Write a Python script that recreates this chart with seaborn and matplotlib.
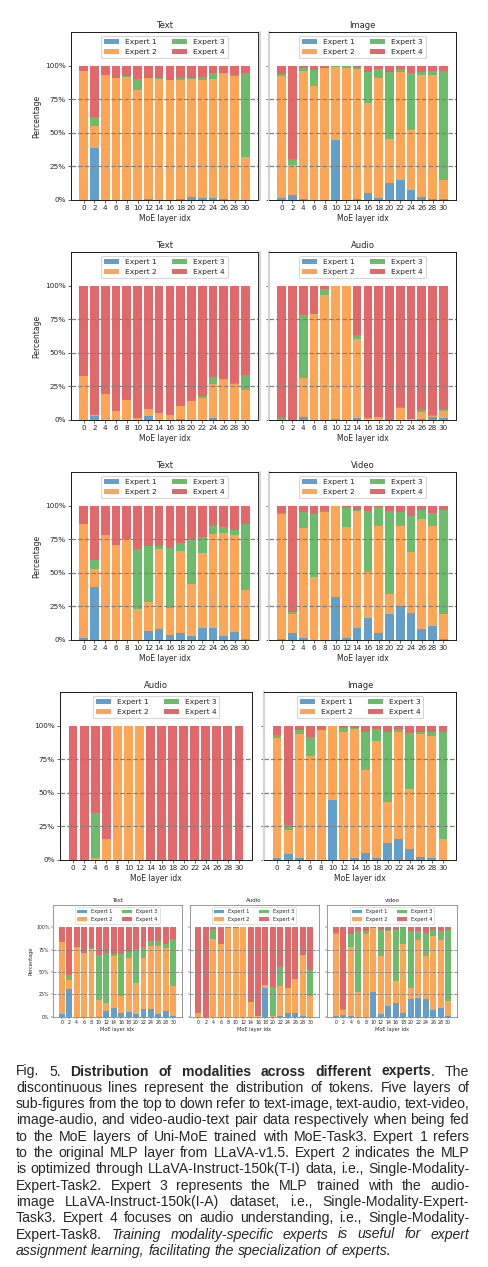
import matplotlib
matplotlib.use("Agg")
import matplotlib.pyplot as plt
import matplotlib.colors as mcolors
from matplotlib.lines import Line2D
import seaborn as sns
import numpy as np
from matplotlib.patches import Patch

# ---------------- data (percent of tokens per expert) ----------------
layers = [str(i) for i in range(0, 31, 2)]
expert_labels = ["Expert 1", "Expert 2", "Expert 3", "Expert 4"]

# Row 1 : text-image pair, Text tokens
r1t_e1 = [0, 38.6, 0, 0, 0, 0, 0.7, 0, 0, 0.8, 2.0, 1.5, 1.5, 0.5, 0, 0]
r1t_e2 = [96.0, 16.6, 93.3, 91.0, 91.8, 81.6, 90.3, 90.3, 89.6, 88.8, 88.3, 88.1, 88.8, 93.8, 92.3, 32.3]
r1t_e3 = [0.3, 6.5, 0, 0, 0.7, 8.7, 0, 0.5, 0, 1.4, 0.7, 1.9, 4.0, 0.5, 1.0, 62.2]
r1t_e4 = [3.7, 38.3, 6.7, 9.0, 7.5, 9.7, 9.0, 9.2, 10.4, 9.0, 9.0, 8.5, 5.7, 5.2, 6.7, 5.5]
# Row 1 : text-image pair, Image tokens
r1i_e1 = [1.5, 4.0, 0.5, 0, 0, 44.8, 0, 1.0, 5.0, 1.5, 12.4, 14.9, 7.5, 2.0, 0.8, 0.5]
r1i_e2 = [91.0, 21.9, 95.3, 85.1, 98.5, 54.2, 98.5, 96.8, 67.4, 89.5, 33.1, 80.4, 44.7, 91.3, 92.5, 14.4]
r1i_e3 = [1.0, 4.4, 2.5, 11.9, 0, 0.7, 1.0, 0.2, 23.1, 6.8, 50.0, 2.5, 42.6, 2.0, 3.0, 80.9]
r1i_e4 = [6.5, 69.7, 1.7, 3.0, 1.5, 0.3, 0.5, 2.0, 4.5, 2.2, 4.5, 2.2, 5.2, 4.7, 3.7, 4.2]
# Row 2 : text-audio pair, Text tokens
r2t_e1 = [0, 3.2, 0, 0, 0, 0, 3.0, 0, 0, 0.5, 0, 0, 1.5, 0, 0, 0]
r2t_e2 = [32.8, 0.5, 19.4, 6.7, 15.2, 1.7, 5.5, 5.2, 3.5, 9.9, 14.4, 16.7, 25.4, 30.6, 27.1, 22.6]
r2t_e3 = [0, 0, 0, 0, 0, 0, 0, 0, 0, 0, 0, 1.2, 5.4, 0, 0.4, 11.2]
r2t_e4 = [67.2, 96.3, 80.6, 93.3, 84.8, 98.3, 91.5, 94.8, 96.5, 89.6, 85.6, 82.1, 67.7, 69.4, 72.5, 66.2]
# Row 2 : text-audio pair, Audio tokens
r2a_e1 = [0, 0, 2.2, 0, 0, 0.5, 0, 1.5, 0, 0, 0, 0, 0, 0.5, 2.5, 1.5]
r2a_e2 = [0, 0, 29.4, 79.1, 92.8, 99.5, 100, 59.2, 1.7, 2.2, 0, 9.2, 0.5, 5.5, 0.7, 5.5]
r2a_e3 = [1.2, 0, 47.0, 0, 5.2, 0, 0, 3.0, 0, 0, 0, 0.5, 0, 1.2, 0.3, 1.5]
r2a_e4 = [98.8, 100, 21.4, 20.9, 2.0, 0, 0, 36.3, 98.3, 97.8, 100, 90.3, 99.5, 92.8, 96.5, 91.5]
# Row 3 : text-video pair, Text tokens
r3t_e1 = [1.5, 39.8, 0, 0, 0, 0, 7.0, 8.0, 3.7, 5.2, 3.0, 9.0, 9.0, 3.2, 6.0, 0.5]
r3t_e2 = [85.1, 13.4, 78.4, 70.9, 75.1, 23.4, 21.4, 59.9, 20.2, 61.2, 38.8, 55.9, 70.1, 76.7, 71.9, 36.6]
r3t_e3 = [0, 6.5, 0, 0, 0, 44.5, 41.7, 2.0, 44.8, 6.2, 33.6, 12.2, 6.2, 4.7, 4.2, 49.5]
r3t_e4 = [13.4, 40.3, 21.6, 29.1, 24.9, 32.1, 29.9, 30.1, 31.3, 27.4, 24.6, 22.9, 14.7, 15.4, 17.9, 13.4]
# Row 3 : text-video pair, Video tokens
r3v_e1 = [0.5, 5.2, 1.5, 0, 0, 32.3, 1.5, 9.0, 16.4, 5.2, 19.7, 25.1, 20.1, 8.2, 10.4, 0.5]
r3v_e2 = [93.5, 14.2, 82.1, 47.3, 95.5, 67.4, 83.1, 87.3, 34.1, 80.1, 14.6, 60.2, 45.6, 82.3, 74.9, 19.2]
r3v_e3 = [0.8, 1.2, 11.9, 46.7, 1.0, 0, 13.9, 0.5, 46.0, 14.2, 62.0, 10.2, 26.8, 6.5, 9.7, 77.3]
r3v_e4 = [5.2, 79.4, 4.5, 6.0, 3.5, 0.3, 1.5, 3.2, 3.5, 0.5, 3.7, 4.5, 7.5, 3.0, 5.0, 3.0]
# Row 4 : image-audio pair, Audio tokens
r4a_e1 = [0, 0, 0, 0, 0, 0, 0, 0, 0, 0, 0, 0, 0, 0, 0, 0]
r4a_e2 = [0, 0, 1.5, 15.7, 100, 100, 100, 0, 0, 0, 0, 0, 0, 0, 0, 0]
r4a_e3 = [0, 0, 33.8, 0, 0, 0, 0, 0, 0, 0, 0, 0, 0, 0, 0, 0]
r4a_e4 = [100, 100, 64.7, 84.3, 0, 0, 0, 100, 100, 100, 100, 100, 100, 100, 100, 100]
# Row 4 : image-audio pair, Image tokens
r4i_e1 = [1.5, 4.2, 1.2, 0, 0, 44.3, 0, 1.5, 5.2, 1.5, 12.7, 15.4, 8.5, 2.5, 1.5, 0]
r4i_e2 = [89.5, 18.2, 92.6, 77.4, 96.5, 55.2, 95.5, 95.8, 62.0, 86.8, 30.6, 79.9, 44.5, 91.0, 91.0, 15.7]
r4i_e3 = [1.8, 3.5, 3.2, 14.4, 0, 0.3, 2.5, 0.7, 28.1, 9.0, 52.0, 2.0, 41.8, 2.0, 3.0, 79.6]
r4i_e4 = [7.2, 74.1, 3.0, 8.2, 3.5, 0.2, 2.0, 2.0, 4.7, 2.7, 4.7, 2.7, 5.2, 4.5, 4.5, 4.7]
# Row 5 : video-audio-text, Text tokens
r5t_e1 = [2.6, 30.7, 0, 0, 0, 0, 6.0, 9.7, 4.5, 5.2, 3.4, 9.0, 8.2, 3.4, 6.7, 0.7]
r5t_e2 = [81.3, 10.1, 78.3, 71.5, 75.7, 18.7, 9.7, 58.5, 18.7, 60.0, 34.8, 56.2, 70.5, 75.3, 70.1, 34.1]
r5t_e3 = [0, 6.0, 0, 0, 0.7, 50.2, 55.8, 2.2, 46.8, 7.5, 37.5, 12.3, 6.3, 5.6, 4.5, 51.7]
r5t_e4 = [16.1, 53.2, 21.7, 28.5, 23.6, 31.1, 28.5, 29.6, 30.0, 27.3, 24.3, 22.5, 15.0, 15.7, 18.7, 13.5]
# Row 5 : video-audio-text, Audio tokens
r5a_e1 = [0, 0, 0, 0, 0, 0, 0, 0, 0, 32.2, 0, 0.5, 4.5, 4.5, 1.0, 0]
r5a_e2 = [4.1, 0, 86.5, 81.3, 98.9, 99.5, 100, 16.5, 1.0, 3.0, 0.5, 34.0, 27.3, 37.4, 67.9, 23.2]
r5a_e3 = [0, 0, 11.3, 0, 0, 0, 0, 0, 0, 0, 32.5, 20.9, 0, 0, 0, 29.2]
r5a_e4 = [95.9, 100, 2.2, 18.7, 1.1, 0.5, 0, 83.5, 99.0, 64.8, 67.0, 44.6, 68.2, 58.1, 31.1, 47.6]
# Row 5 : video-audio-text, Video tokens
r5v_e1 = [0.5, 2.2, 0.7, 0, 0, 27.7, 3.4, 12.0, 15.7, 4.5, 20.2, 20.6, 19.5, 7.1, 9.4, 0.5]
r5v_e2 = [92.4, 5.3, 77.6, 27.7, 92.9, 71.2, 64.8, 83.5, 24.4, 77.1, 12.0, 65.2, 48.3, 83.5, 76.4, 17.1]
r5v_e3 = [1.1, 1.1, 14.6, 67.8, 2.6, 0.7, 28.4, 1.5, 56.5, 17.3, 64.1, 10.5, 26.2, 6.8, 9.7, 79.8]
r5v_e4 = [6.0, 91.4, 7.1, 4.5, 4.5, 0.4, 3.4, 3.0, 3.4, 1.1, 3.7, 3.7, 6.0, 2.6, 4.5, 2.6]

# ---------------- styling ----------------
sns.set_style("ticks")
plt.rcParams['font.family'] = ['DejaVu Sans']

W, H = 489, 1267
fig = plt.figure(figsize=(W / 100, H / 100), dpi=100)
fig.patch.set_facecolor("white")


def blend(c, a=0.7):
    r, g, b = mcolors.to_rgb(c)
    return (r * a + 1 - a, g * a + 1 - a, b * a + 1 - a)


colors = [blend(c) for c in ["#1f77b4", "#ff7f0e", "#2ca02c", "#d62728"]]


def vline(x, y0, y1, color="#d4d4d4", lw=1.6):
    fig.add_artist(Line2D([x / W, x / W], [1 - y0 / H, 1 - y1 / H], color=color, lw=lw))


def add_panel(x0, x1, ytop, ybot, title, e1, e2, e3, e4, s=1.0,
              yticklabels=True, ylabel=True, light_left=False, spine_col="0.1"):
    ax = fig.add_axes([x0 / W, 1 - ybot / H, (x1 - x0) / W, (ybot - ytop) / H])
    c1 = np.array(e1, float)
    c2 = c1 + np.array(e2, float)
    c3 = c2 + np.array(e3, float)
    c4 = c3 + np.array(e4, float)
    for cum, col in zip([c4, c3, c2, c1], colors[::-1]):
        sns.barplot(x=layers, y=cum, color=col, saturation=1, width=0.8,
                    linewidth=0, ax=ax, errorbar=None)
    for yv in (25, 50, 75):
        ax.axhline(yv, color="gray", ls="--", lw=0.9 * s, zorder=5)
    ax.set_xlim(-1.18, 16.18)
    ax.set_ylim(0, 125)
    ax.set_xticks(range(len(layers)))
    ax.set_xticklabels(layers)
    ax.set_yticks([0, 25, 50, 75, 100])
    ax.set_yticklabels(["0%", "25%", "50%", "75%", "100%"])
    ax.tick_params(labelsize=5.2 * s, length=2.0 * s, width=0.5 * s, pad=1.8 * s,
                   labelleft=yticklabels)
    ax.set_title(title, fontsize=6.0 * s, pad=3.0 * s)
    ax.set_xlabel("MoE layer idx", fontsize=5.5 * s, labelpad=2.0 * s)
    ax.set_ylabel("Percentage" if ylabel else "", fontsize=5.5 * s, labelpad=2.5 * s)
    for sp in ax.spines.values():
        sp.set_linewidth(0.7 * s)
        sp.set_color(spine_col)
    if light_left:
        ax.spines["left"].set_color("#d4d4d4")
        ax.spines["left"].set_linewidth(1.6)
    handles = [Patch(facecolor=c, edgecolor="none") for c in colors]
    leg = ax.legend(handles, expert_labels, ncol=2, loc="upper center",
                    fontsize=5.4 * s, frameon=True, borderaxespad=0.5)
    leg.get_frame().set_edgecolor("0.8")
    leg.get_frame().set_linewidth(0.8 * s)
    return ax


# rows 1-3
rows = [
    (32, 200, ("Text", r1t_e1, r1t_e2, r1t_e3, r1t_e4), ("Image", r1i_e1, r1i_e2, r1i_e3, r1i_e4)),
    (252.3, 420, ("Text", r2t_e1, r2t_e2, r2t_e3, r2t_e4), ("Audio", r2a_e1, r2a_e2, r2a_e3, r2a_e4)),
    (472.3, 640, ("Text", r3t_e1, r3t_e2, r3t_e3, r3t_e4), ("Video", r3v_e1, r3v_e2, r3v_e3, r3v_e4)),
]
for ytop, ybot, left, right in rows:
    add_panel(71, 258, ytop, ybot, *left)
    add_panel(269, 456, ytop, ybot, *right, yticklabels=False, ylabel=False, light_left=True)
    vline(259.6, ytop, ybot)

# row 4
add_panel(60, 252, 692, 860, "Audio", r4a_e1, r4a_e2, r4a_e3, r4a_e4, ylabel=False)
add_panel(264, 456, 692, 860, "Image", r4i_e1, r4i_e2, r4i_e3, r4i_e4,
          yticklabels=False, ylabel=False, light_left=True)

# row 5
s5 = 0.66
add_panel(53, 182, 905, 1016.7, "Text", r5t_e1, r5t_e2, r5t_e3, r5t_e4, s=s5, spine_col="0.4")
add_panel(189.5, 319, 905, 1016.7, "Audio", r5a_e1, r5a_e2, r5a_e3, r5a_e4, s=s5,
          yticklabels=False, ylabel=False, spine_col="0.4")
add_panel(327, 457, 905, 1016.7, "video", r5v_e1, r5v_e2, r5v_e3, r5v_e4, s=s5,
          yticklabels=False, ylabel=False, spine_col="0.4")

# ---------------- caption (justified) ----------------
CAP_FONT = ["Liberation Sans", "DejaVu Sans"]
STY = {"n": {}, "b": {"fontweight": "bold"}, "i": {"fontstyle": "italic"}}


def plain(text, st="n"):
    return [[(w, st)] for w in text.split()]


cap_lines = [
    [[("Fig.", "n")], [("5.", "n")]] + plain("Distribution of modalities across different", "b")
    + [[("experts", "b"), (".", "n")], [("The", "n")]],
    plain("discontinuous lines represent the distribution of tokens. Five layers of"),
    plain("sub-figures from the top to down refer to text-image, text-audio, text-video,"),
    plain("image-audio, and video-audio-text pair data respectively when being fed"),
    plain("to the MoE layers of Uni-MoE trained with MoE-Task3. Expert 1 refers"),
    plain("to the original MLP layer from LLaVA-v1.5. Expert 2 indicates the MLP"),
    plain("is optimized through LLaVA-Instruct-150k(T-I) data, i.e., Single-Modality-"),
    plain("Expert-Task2. Expert 3 represents the MLP trained with the audio-"),
    plain("image LLaVA-Instruct-150k(I-A) dataset, i.e., Single-Modality-Expert-"),
    plain("Task3. Expert 4 focuses on audio understanding, i.e., Single-Modality-"),
    plain("Expert-Task8.") + plain("Training modality-specific experts is useful for expert", "i"),
    plain("assignment learning, facilitating the specialization of experts.", "i"),
]

renderer = fig.canvas.get_renderer()


def text_w(s, st, fs):
    t = fig.text(0, 0, s, fontsize=fs, family=CAP_FONT, **STY[st])
    w = t.get_window_extent(renderer).width
    t.remove()
    return w


def space_w(fs, st="n"):
    return text_w("x x", st, fs) - text_w("xx", st, fs)


CX0, CX1 = 16, 469
target = CX1 - CX0
fs0 = 10.0
ratios = []
for ln in cap_lines[:-1]:
    nat = sum(text_w(p, st, fs0) for tok in ln for p, st in tok) + space_w(fs0) * (len(ln) - 1)
    ratios.append(target / nat)
fs = fs0 * min(ratios) * 1.02

base0, lstep = 1075.5, 16.3
for i, ln in enumerate(cap_lines):
    widths = [[text_w(p, st, fs) for p, st in tok] for tok in ln]
    tokw = [sum(w) for w in widths]
    if i < len(cap_lines) - 1:
        gap = (target - sum(tokw)) / (len(ln) - 1)
    else:
        gap = space_w(fs, "i")
    x = CX0
    yb = base0 + i * lstep
    for tok, ws in zip(ln, widths):
        xx = x
        for (p, st), w in zip(tok, ws):
            fig.text(xx / W, 1 - yb / H, p, fontsize=fs, family=CAP_FONT,
                     ha="left", va="baseline", **STY[st])
            xx += w
        x = xx + gap

fig.savefig("out.png", dpi=100, facecolor="white")
